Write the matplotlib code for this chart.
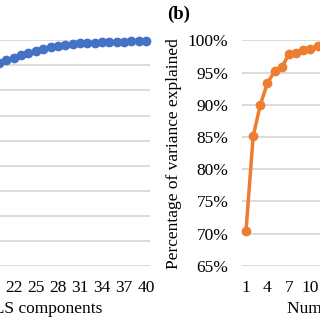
import matplotlib
matplotlib.use("Agg")
import matplotlib.pyplot as plt
from matplotlib.ticker import PercentFormatter

plt.rcParams["font.family"] = ["Liberation Serif", "DejaVu Serif"]

# (a) cumulative variance, only the visible part of the curve
left_comp = list(range(19, 41))
left_var = [94.9, 95.5, 96.0, 96.5, 97.0, 97.5, 97.9, 98.2, 98.6, 98.8, 99.0,
            99.2, 99.4, 99.5, 99.54, 99.6, 99.66, 99.7, 99.74, 99.78, 99.8, 99.84]

# (b) percentage of variance explained, visible part
right_comp = list(range(1, 12))
right_var = [70.4, 85.1, 90.0, 93.4, 95.2, 95.8, 97.9, 98.0, 98.5, 98.6, 99.1]

xticks = list(range(1, 41, 3))
grid_color = "#D9D9D9"
fs = 12.5


def style(ax, ylo, yhi, step):
    ax.set_xlim(0.5, 40.5)
    ax.set_ylim(ylo, yhi)
    ax.set_yticks([ylo + i * step for i in range(int(round((yhi - ylo) / step)) + 1)])
    ax.yaxis.set_major_formatter(PercentFormatter(decimals=0))
    ax.set_xticks(xticks)
    ax.grid(axis="y", color=grid_color, linewidth=1.3)
    ax.set_axisbelow(True)
    for s in ax.spines.values():
        s.set_visible(False)
    ax.tick_params(axis="y", length=0, labelsize=fs, pad=10)
    ax.tick_params(axis="x", length=0, labelsize=fs, pad=10)
    ax.set_xlabel("Number of PLS components", fontsize=fs, labelpad=4)


fig = plt.figure(figsize=(3.2, 3.2), dpi=100)

ax1 = fig.add_axes([-0.451, 0.169, 0.919, 0.705])
ax1.plot(left_comp, left_var, color="#4472C4", linewidth=2.5,
         marker="o", markersize=6, clip_on=False)
style(ax1, 55, 100, 5)

ax2 = fig.add_axes([0.7575, 0.169, 0.896, 0.705])
ax2.plot(right_comp, right_var, color="#ED7D31", linewidth=2.5,
         marker="o", markersize=6, clip_on=False)
style(ax2, 65, 100, 5)
ax2.set_ylabel("Percentage of variance explained", fontsize=fs, labelpad=4)

fig.text(0.522, 0.955, "(b)", fontsize=13.5, fontweight="bold", va="center")

fig.savefig("out.png", dpi=100)
